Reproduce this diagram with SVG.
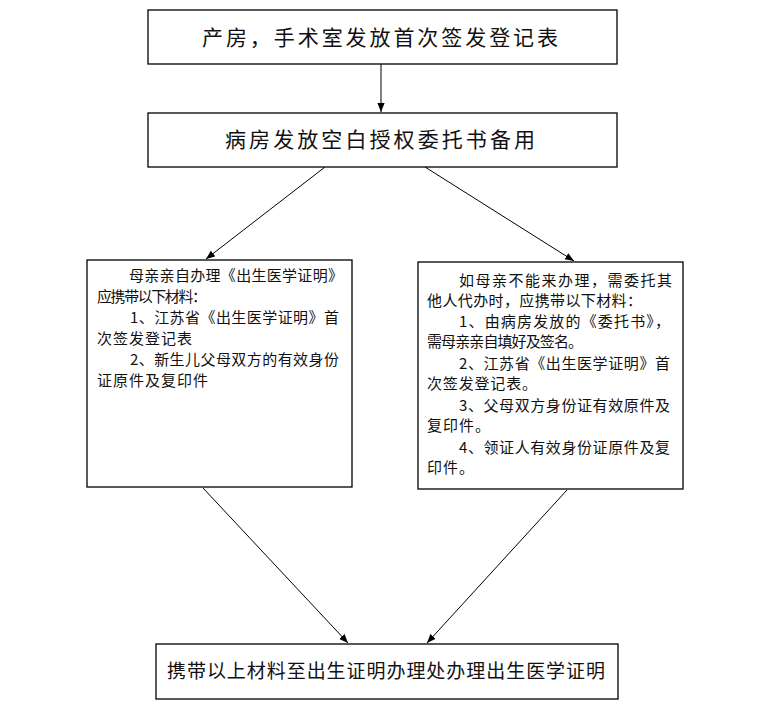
<svg xmlns="http://www.w3.org/2000/svg" width="757" height="709" viewBox="0 0 757 709">
<defs>
<style>
.box{fill:#fff;stroke:#000;stroke-width:1.3}
.t{font-family:"Noto Sans CJK SC","Noto Sans",sans-serif;fill:#111}
.big{font-size:21px}
.mid{font-size:19px}
.sm{font-size:15px}
.c{stroke:#000;stroke-width:1;fill:none;marker-end:url(#ah)}
</style>
<marker id="ah" viewBox="0 0 10 10" refX="10" refY="5" markerWidth="9" markerHeight="9" markerUnits="userSpaceOnUse" orient="auto">
<path d="M0,1 L10,5 L0,9 Z" fill="#000"/>
</marker>
</defs>
<rect width="757" height="709" fill="#fff"/>
<g id="connectors">
<line class="c" x1="381" y1="64" x2="381" y2="112"/>
<line class="c" x1="325" y1="167" x2="206" y2="259"/>
<line class="c" x1="425" y1="167" x2="574" y2="261"/>
<line class="c" x1="203" y1="488" x2="348" y2="643"/>
<line class="c" x1="567" y1="490" x2="427" y2="643"/>
</g>
<g id="n1">
<rect class="box" x="148" y="10" width="469" height="54"/>
<text class="t big" x="202" y="45" textLength="356" lengthAdjust="spacing">产房，手术室发放首次签发登记表</text>
</g>
<g id="n2">
<rect class="box" x="148" y="113" width="469" height="54"/>
<text class="t big" x="225" y="147" textLength="310" lengthAdjust="spacing">病房发放空白授权委托书备用</text>
</g>
<g id="n3">
<rect class="box" x="87" y="260" width="265" height="227"/>
<text class="t sm" x="129" y="281" textLength="214" lengthAdjust="spacing">母亲亲自办理《出生医学证明》</text>
<text class="t sm" x="97" y="302" textLength="110" lengthAdjust="spacing">应携带以下材料：</text>
<text class="t sm" x="130" y="323" textLength="209" lengthAdjust="spacing">1、江苏省《出生医学证明》首</text>
<text class="t sm" x="97" y="344" textLength="95" lengthAdjust="spacing">次签发登记表</text>
<text class="t sm" x="130" y="365" textLength="209" lengthAdjust="spacing">2、新生儿父母双方的有效身份</text>
<text class="t sm" x="97" y="386" textLength="111" lengthAdjust="spacing">证原件及复印件</text>
</g>
<g id="n4">
<rect class="box" x="418" y="262" width="265" height="227"/>
<text class="t sm" x="459" y="286" textLength="213" lengthAdjust="spacing">如母亲不能来办理，需委托其</text>
<text class="t sm" x="427" y="306" textLength="215" lengthAdjust="spacing">他人代办时，应携带以下材料：</text>
<text class="t sm" x="459" y="327" textLength="211" lengthAdjust="spacing">1、由病房发放的《委托书》，</text>
<text class="t sm" x="427" y="347" textLength="156" lengthAdjust="spacing">需母亲亲自填好及签名。</text>
<text class="t sm" x="459" y="369" textLength="211" lengthAdjust="spacing">2、江苏省《出生医学证明》首</text>
<text class="t sm" x="427" y="389" textLength="110" lengthAdjust="spacing">次签发登记表。</text>
<text class="t sm" x="459" y="411" textLength="211" lengthAdjust="spacing">3、父母双方身份证有效原件及</text>
<text class="t sm" x="427" y="431" textLength="63" lengthAdjust="spacing">复印件。</text>
<text class="t sm" x="459" y="453" textLength="211" lengthAdjust="spacing">4、领证人有效身份证原件及复</text>
<text class="t sm" x="427" y="473" textLength="47" lengthAdjust="spacing">印件。</text>
</g>
<g id="n5">
<rect class="box" x="156" y="644" width="462" height="55"/>
<text class="t mid" x="167" y="678" textLength="438" lengthAdjust="spacing">携带以上材料至出生证明办理处办理出生医学证明</text>
</g>
</svg>
